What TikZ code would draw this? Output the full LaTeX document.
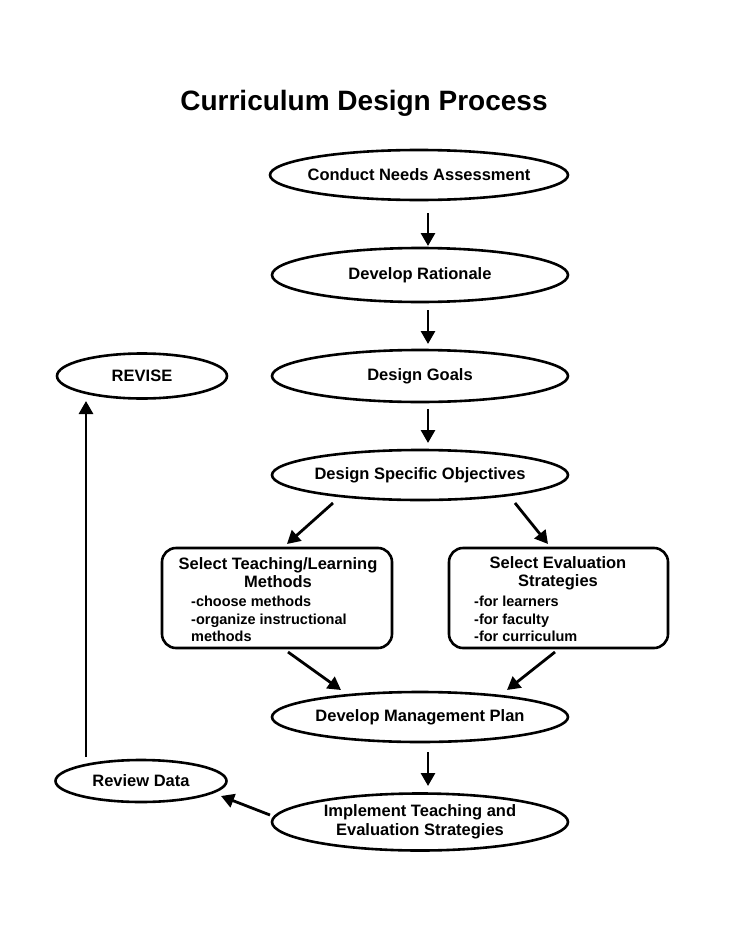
\documentclass[tikz,border=0pt]{standalone}
\usepackage{fontspec}
\setmainfont{Liberation Sans}
\usetikzlibrary{shapes.geometric,arrows.meta}
\begin{document}
\begin{tikzpicture}[x=1pt,y=-1pt,
  oval/.style={ellipse,draw,line width=2.6pt,inner xsep=-12pt,inner ysep=0pt,font=\fontsize{16.5}{19.5}\selectfont\bfseries,align=center},
  rbox/.style={draw,line width=2.6pt,rounded corners=14pt,inner sep=0pt},
  btxt/.style={font=\fontsize{16.5}{18}\selectfont\bfseries,align=center,inner sep=0pt},
  stxt/.style={font=\fontsize{14.5}{17.5}\selectfont\bfseries,align=left,inner sep=0pt,anchor=north west},
  arr/.style={line width=2.8pt,-{Triangle[length=13pt,width=14pt]}}]
\useasboundingbox (0,0) rectangle (728,942);
\node[font=\fontsize{28}{32}\selectfont\bfseries] (title) at (364,103) {Curriculum Design Process};
\node[oval,minimum width=298pt,minimum height=50pt] (needs) at (419,175) {Conduct Needs Assessment};
\node[oval,minimum width=296pt,minimum height=54pt] (rat) at (420,275) {Develop Rationale};
\node[oval,minimum width=296pt,minimum height=52pt] (goals) at (420,376) {Design Goals};
\node[oval,minimum width=296pt,minimum height=50pt] (obj) at (420,475) {Design Specific Objectives};
\node[oval,minimum width=170pt,minimum height=45pt] (revise) at (142,376) {REVISE};
\node[oval,minimum width=296pt,minimum height=50pt] (mgmt) at (420,717) {Develop Management Plan};
\node[oval,minimum width=171pt,minimum height=42pt] (review) at (141,781) {Review Data};
\node[oval,minimum width=296pt,minimum height=57pt] (impl) at (420,822) {Implement Teaching and\\Evaluation Strategies};
\node[rbox,minimum width=230pt,minimum height=100pt] (teach) at (277,598) {};
\node[rbox,minimum width=219pt,minimum height=100pt] (eval) at (558.5,598) {};
\node[btxt] (teachT) at (278,573) {Select Teaching/Learning\\Methods};
\node[stxt] (teachS) at (191,596) {-choose methods\\-organize instructional\\methods};
\node[btxt] (evalT) at (558,573) {Select Evaluation\\Strategies};
\node[stxt] (evalS) at (474,596) {-for learners\\-for faculty\\-for curriculum};
\coordinate (a1s) at (428,213); \coordinate (a1e) at (428,246);
\coordinate (a2s) at (428,310); \coordinate (a2e) at (428,344);
\coordinate (a3s) at (428,409); \coordinate (a3e) at (428,443);
\coordinate (a4s) at (428,752); \coordinate (a4e) at (428,786);
\draw[arr] (a1s) -- (a1e);
\draw[arr] (a2s) -- (a2e);
\draw[arr] (a3s) -- (a3e);
\draw[arr] (a4s) -- (a4e);
\coordinate (d1s) at (333,503); \coordinate (d1e) at (287,544);
\coordinate (d2s) at (515,503); \coordinate (d2e) at (548,544);
\coordinate (d3s) at (288,652); \coordinate (d3e) at (341,690);
\coordinate (d4s) at (555,652); \coordinate (d4e) at (507,690);
\draw[arr] (d1s) -- (d1e);
\draw[arr] (d2s) -- (d2e);
\draw[arr] (d3s) -- (d3e);
\draw[arr] (d4s) -- (d4e);
\coordinate (r1s) at (270,815); \coordinate (r1e) at (221,796);
\draw[arr] (r1s) -- (r1e);
\coordinate (u1s) at (86,757); \coordinate (u1e) at (86,401);
\draw[arr] (u1s) -- (u1e);
\end{tikzpicture}
\end{document}
